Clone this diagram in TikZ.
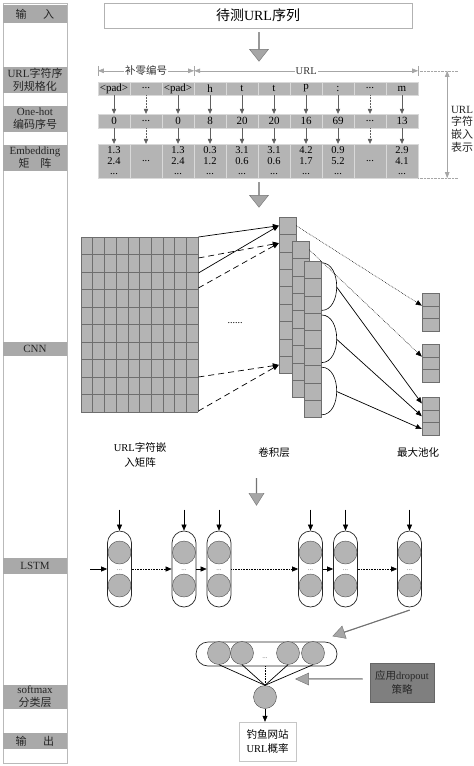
\documentclass[tikz,border=0pt]{standalone}
\usepackage{fontspec}
\setmainfont{Liberation Serif}
\newfontfamily\zhfont{Noto Sans CJK SC}
\newcommand{\zh}[1]{{\zhfont #1}}
\newcommand{\gapdots}{...}
\usetikzlibrary{arrows.meta,positioning,shapes.arrows}
\definecolor{cellgray}{HTML}{B4B4B4}
\definecolor{bargray}{HTML}{A9A9A9}
\definecolor{edgegray}{HTML}{6E6E6E}
\definecolor{dropgray}{HTML}{7F7F7F}
\tikzset{
  stagebar/.style={fill=bargray,minimum width=64pt,inner sep=0pt,align=center,text=black!85,font=\fontsize{11}{13}\selectfont},
  tokcell/.style={draw=gray!30,fill=cellgray,minimum width=32pt,inner sep=0pt,align=center,font=\fontsize{11}{11}\selectfont},
  convcell/.style={draw=edgegray,fill=cellgray,minimum width=17pt,minimum height=17.4pt,inner sep=0pt},
  poolcell/.style={draw=edgegray,fill=cellgray,minimum width=17pt,minimum height=12.8pt,inner sep=0pt},
  unit/.style={circle,draw=black!70,fill=cellgray,minimum size=23pt,inner sep=0pt},
  capsule/.style={draw=black!85,rounded corners=12pt,minimum width=24pt,minimum height=76pt,inner sep=0pt,line width=.7pt},
  bigarrow/.style={single arrow,draw=black!55,fill=gray!70,inner sep=0pt},
  grayflow/.style={-{Triangle[length=5pt,width=4.5pt]},draw=gray!75!black,line width=.5pt},
  spanline/.style={{Triangle[length=6pt,width=4.5pt]}-{Triangle[length=6pt,width=4.5pt]},draw=gray!70,line width=.6pt},
  flow/.style={-{Triangle[length=6pt,width=5pt]},line width=.7pt},
  cnntext/.style={align=center,font=\fontsize{10.5}{15}\selectfont},
  smalldots/.style={font=\fontsize{7}{7}\selectfont,text=black!60,inner sep=0pt},
}

\begin{document}
\begin{tikzpicture}[x=1pt,y=-1pt]
  \useasboundingbox (0,0) rectangle (474,766);
  % stage column
  \node[draw=gray!55,minimum width=64pt,minimum height=760pt,inner sep=0pt,anchor=north west] (stages) at (3,3) {};
  \node[stagebar,minimum height=18pt] (sIn) at (35,14) {\zh{输\hspace{1.5em}入}};
  \node[stagebar,minimum height=26pt] (sNorm) at (35,79.5) {URL\zh{字符序}\\\zh{列规格化}};
  \node[stagebar,minimum height=26pt] (sHot) at (35,119) {One-hot\\\zh{编码序号}};
  \node[stagebar,minimum height=26pt] (sEmb) at (35,157.5) {Embedding\\\zh{矩\hspace{1em}阵}};
  \node[stagebar,minimum height=14pt] (sCnn) at (35,348.5) {CNN};
  \node[stagebar,minimum height=16pt] (sLstm) at (35,566) {LSTM};
  \node[stagebar,minimum height=24pt] (sSoft) at (35,696.5) {softmax\\\zh{分类层}};
  \node[stagebar,minimum height=16pt] (sOut) at (35,741) {\zh{输\hspace{1.5em}出}};

  % input and embedding rows
  \node[draw=gray!60,minimum width=308pt,minimum height=25pt,font=\fontsize{14}{16}\selectfont] (url) at (258,15.5) {\zh{待测}URL\zh{序列}};
  \node[bigarrow,rotate=-90,minimum height=29pt,minimum width=19pt,single arrow head extend=4.5pt,single arrow tip angle=77] (down1) at (259,46.5) {};
  \foreach \t [count=\i] in {<pad>,\gapdots,<pad>,h,t,t,p,:,\gapdots,m}
    \node[tokcell,minimum height=13pt] (tok\i) at (82+32*\i,88.5) {\t};
  \foreach \t [count=\i] in {0,\gapdots,0,8,20,20,16,69,\gapdots,13}
    \node[tokcell,minimum height=14pt] (code\i) at (82+32*\i,121) {\t};
  \foreach \t [count=\i] in {{1.3\\2.4\\\gapdots},\gapdots,{1.3\\2.4\\\gapdots},{0.3\\1.2\\\gapdots},{3.1\\0.6\\\gapdots},{3.1\\0.6\\\gapdots},{4.2\\1.7\\\gapdots},{0.9\\5.2\\\gapdots},\gapdots,{2.9\\4.1\\\gapdots}}
    \node[tokcell,minimum height=34pt,font=\fontsize{10.5}{10.5}\selectfont] (emb\i) at (82+32*\i,161) {\t};
  \foreach \i in {1,3,4,5,6,7,8,10}{\draw[grayflow] (tok\i) -- (code\i);\draw[grayflow] (code\i) -- (emb\i);}
  \foreach \i in {2,9}{\draw[grayflow,densely dotted] (tok\i) -- (code\i);\draw[grayflow,densely dotted] (code\i) -- (emb\i);}

  \coordinate (zl) at ([yshift=11pt]tok1.north west);
  \coordinate (zm) at ([yshift=11pt]tok3.north east);
  \coordinate (zr) at ([yshift=11pt]tok10.north east);
  \coordinate (zx) at ([xshift=40pt]zr);
  \coordinate (eb) at (emb10.south east);
  \coordinate (ebx) at ([xshift=40pt]eb);
  \foreach \c in {zl,zm,zr} \draw[gray!70,line width=.6pt] ([yshift=5pt]\c) -- ([yshift=-5pt]\c);
  \draw[spanline] (zl) -- node[fill=white,inner sep=1pt,font=\fontsize{10.5}{12}\selectfont,text=black!80] (padtxt) {\zh{补零编号}} (zm);
  \draw[spanline] (zm) -- node[fill=white,inner sep=1pt,font=\fontsize{10.5}{12}\selectfont,text=black!80] (urltxt) {URL} (zr);
  \draw[gray!70,densely dotted] (zr) -- (zx);\draw[gray!70,densely dotted] (eb) -- (ebx);
  \draw[spanline] ([xshift=29pt]zr) -- ([xshift=29pt]eb);
  \node[align=center,font=\fontsize{11}{12.7}\selectfont,text=black!85] (embnote) at (462,129) {URL\\\zh{字符}\\\zh{嵌入}\\\zh{表示}};
  \node[bigarrow,rotate=-90,minimum height=25pt,minimum width=19pt,single arrow head extend=4.5pt,single arrow tip angle=77] (down2) at (259,194.5) {};

  % CNN
  \node[fill=cellgray,minimum width=117pt,minimum height=175pt,inner sep=0pt,anchor=north west] (emat) at (81,237) {};
  \foreach \k in {0,...,10}{
    \draw[edgegray,line width=.5pt] ([yshift=-17.5*\k]emat.north west) -- ([yshift=-17.5*\k]emat.north east);
    \draw[edgegray,line width=.5pt] ([xshift=11.7*\k]emat.north west) -- ([xshift=11.7*\k]emat.south west);}
  \foreach \i in {1,...,9} \node[convcell] (ca\i) at (287.5,208.3+17.4*\i) {};
  \foreach \i in {1,...,9} \node[convcell] (cb\i) at (300.5,232.3+17.4*\i) {};
  \foreach \i in {1,...,9} \node[convcell] (cc\i) at (313,252.3+17.4*\i) {};
  \foreach \g/\top in {1/293,2/344,3/397}
    \foreach \j in {1,2,3} \node[poolcell] (p\g\j) at (430.5,\top+12.8*\j-6.4) {};
  \node[font=\fontsize{10}{10}\selectfont] (cgap) at (235,323) {......};

  \foreach \n/\d in {0/0,1/21,2/36,3/51,8/140,10/174} \coordinate (e\n) at ([yshift=-\d]emat.north east);
  \draw[flow] (e0) -- (ca1.west);\draw[flow] (e2) -- (ca1.west);
  \draw[flow,dash pattern=on 6pt off 4pt] (e1) -- (ca2.west);\draw[flow,dash pattern=on 6pt off 4pt] (e3) -- (ca2.west);
  \draw[flow,dash pattern=on 6pt off 4pt] (e8) -- (ca9.west);\draw[flow,dash pattern=on 6pt off 4pt] (e10) -- (ca9.west);

  \foreach \a/\b/\m/\k in {1/3/2/1,4/6/5/2,7/9/8/3}{
    \draw[line width=.6pt] ([yshift=-2pt]cc\a.north east) .. controls +(20,0) and +(20,0) .. ([yshift=3pt]cc\b.south east);
    \coordinate (k\k) at ([xshift=15pt]cc\m.east);}
  \draw[flow,densely dotted,line width=.5pt] (ca1.east) -- (p12.north west);
  \draw[flow,densely dotted,line width=.5pt] (cb1.east) -- (p22.north west);
  \draw[flow] (k1) -- (p31.west);\draw[flow] (k2) -- (p32.west);\draw[flow] (k3) -- (p33.west);

  \node[cnntext] (lblemb) at (140,454.5) {URL\zh{字符嵌}\\\zh{入矩阵}};
  \node[cnntext] (lblconv) at (274,453) {\zh{卷积层}};
  \node[cnntext] (lblpool) at (418,453) {\zh{最大池化}};
  \node[bigarrow,rotate=-90,minimum height=27pt,minimum width=15pt,single arrow head extend=4pt,single arrow tip angle=64] (down3) at (256.5,491.5) {};

  % LSTM
  \foreach \n/\x in {1/119.5,2/184,3/219,4/310.5,5/345.5,6/409.5}{
    \node[capsule] (l\n) at (\x,569) {};
    \node[unit] (u\n) at ([yshift=16.5pt]l\n.center) {};
    \node[unit] (v\n) at ([yshift=-16.5pt]l\n.center) {};
    \node[smalldots] (m\n) at ([yshift=-1.5pt]l\n.center) {...};
    \coordinate (in\n) at ([yshift=21pt]l\n.north);
    \draw[flow,line width=.6pt] (in\n) -- (l\n);}
  \coordinate (h0) at ([xshift=-17pt]l1.west);
  \draw[flow,line width=.6pt] (h0) -- (l1);
  \draw[flow,line width=.6pt,densely dotted] (l1) -- (l2);\draw[flow,line width=.6pt] (l2) -- (l3);
  \draw[flow,line width=.6pt,densely dotted] (l3) -- (l4);\draw[flow,line width=.6pt] (l4) -- (l5);
  \draw[flow,line width=.6pt,densely dotted] (l5) -- (l6);
  \node[bigarrow,rotate=198.7,minimum height=81pt,minimum width=13pt,single arrow head extend=3.5pt,single arrow tip angle=57] (diag) at (371.5,623) {};

  % softmax
  \node[capsule,minimum width=141pt,minimum height=24pt] (dense) at (266.5,654) {};
  \foreach \n/\x in {1/219,2/242,3/288,4/313} \node[unit] (d\n) at (\x,653) {};
  \node[smalldots] (ddots) at (265,658) {...};
  \node[unit] (out) at (265,697) {};
  \foreach \n in {1,...,4} \draw[line width=.7pt] (d\n.south) -- (out.north);
  \draw[densely dotted,line width=.6pt] (out.north |- dense.south) -- (out.north);
  \node[fill=dropgray,draw=black!60,minimum width=64pt,minimum height=39pt,inner sep=0pt,align=center,text=black!85,font=\fontsize{10.5}{14}\selectfont] (drop) at (402,682.5) {\zh{应用}dropout\\\zh{策略}};
  \node[bigarrow,rotate=180,minimum height=67pt,minimum width=12pt,single arrow head extend=2.5pt,single arrow tip angle=49] (dropin) at (329.5,679) {};
  \node[draw=gray!45,minimum width=57pt,minimum height=39pt,inner sep=0pt,align=center,font=\fontsize{10.5}{14}\selectfont] (prob) at (267.5,741.5) {\zh{钓鱼网站}\\URL\zh{概率}};
  \draw[flow,line width=.6pt] (out) -- (out |- prob.north);
\end{tikzpicture}
\end{document}
